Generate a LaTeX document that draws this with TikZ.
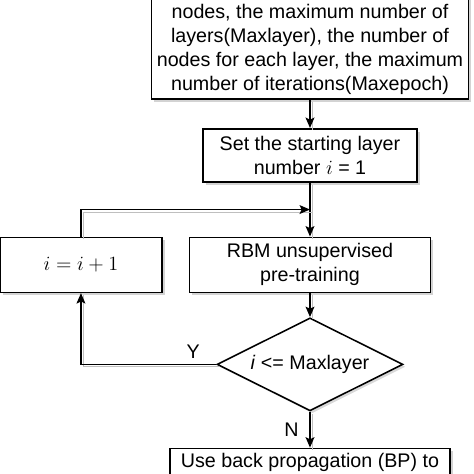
\documentclass[tikz,border=0pt]{standalone}
\usepackage{fontspec}
\setmainfont{Liberation Sans}
\usetikzlibrary{positioning, shapes.geometric, shadows, arrows.meta}
\begin{document}
\begin{tikzpicture}[node distance=1cm, font=\fontsize{14}{17}\selectfont, >={Stealth[length=2.6mm, width=2.2mm, inset=0.5mm]}]
    \tikzstyle{block} = [rectangle, draw, fill=white, line width=1.1pt, align=center, drop shadow={shadow xshift=0.07cm, shadow yshift=-0.07cm, opacity=0.35}]
    \tikzstyle{decision} = [diamond, aspect=2, draw, fill=white, line width=1.1pt, inner sep=0pt, minimum width=4.65cm, minimum height=2.325cm, drop shadow={shadow xshift=0.06cm, shadow yshift=-0.06cm, opacity=0.3}]
    \tikzstyle{conn} = [draw, line width=1.1pt, ->, preaction={draw=black!25, -, transform canvas={shift={(0.06cm,-0.06cm)}}}]

    \path [use as bounding box, clip] (0,0) rectangle (11.85,-11.85);

    \node [block, anchor=south, minimum width=7.925cm] (init) at (7.75,-2.5) {~\\nodes, the maximum number of\\layers(Maxlayer), the number of\\nodes for each layer, the maximum\\number of iterations(Maxepoch)};
    \node [block, below=0.7cm of init, minimum width=5.35cm, minimum height=1.325cm] (set) {Set the starting layer\\number $i$ = 1};
    \node [block, below=1.35cm of set, minimum width=6.025cm, minimum height=1.375cm] (rbm) {RBM unsupervised\\pre-training};
    \node [block, left=0.65cm of rbm, minimum width=4.05cm, minimum height=1.375cm] (inc) {$i = i + 1$};
    \node [decision, below=0.6cm of rbm] (dec) {\textit{i} <= Maxlayer};
    \node [block, below=0.9cm of dec, minimum width=7cm] (bp) {Use back propagation (BP) to\\~};
    \coordinate [below=0.675cm of set.south] (join);

    \path [conn] (init) -- (set);
    \path [conn] (set) -- (rbm);
    \path [conn] (rbm) -- (dec);
    \path [conn] (dec) -- node [left=0.15cm] {N} (bp);
    \path [conn] (dec) -| node [above, pos=0.085] {Y} (inc);
    \path [conn] (inc) |- (join);
\end{tikzpicture}
\end{document}
